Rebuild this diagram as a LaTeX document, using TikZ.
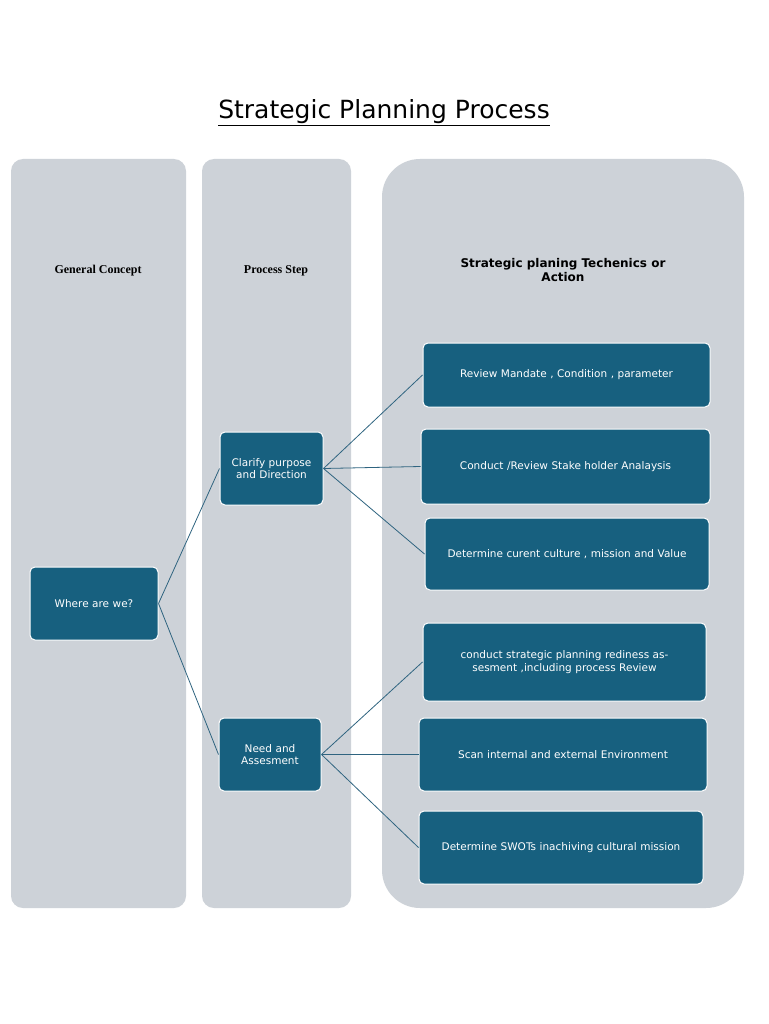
\documentclass[tikz,border=0pt]{standalone}
\usepackage{fontspec}
\setmainfont{DejaVu Sans}
\newfontfamily\serifhd{Liberation Serif}
\begin{document}
\begin{tikzpicture}[x=1pt,y=-1pt,
  col/.style={fill=colgray,draw=none},
  box/.style={fill=boxblue,draw=white,line width=1pt,rounded corners=5pt,text=white,align=center,font=\fontsize{10.5}{12.5}\selectfont,inner sep=2pt},
  link/.style={draw=linkblue,line width=0.8pt}]
\definecolor{colgray}{HTML}{CDD2D8}
\definecolor{boxblue}{HTML}{17607F}
\definecolor{linkblue}{HTML}{2F6480}
\useasboundingbox (0,0) rectangle (768,1024);
\fill[white] (0,0) rectangle (768,1024);
\node[font=\fontsize{25}{30}\selectfont] (title) at (384,113) {\underline{Strategic Planning Process}};
\fill[col,rounded corners=12pt] (11,159) rectangle (186,908);
\fill[col,rounded corners=12pt] (202,159) rectangle (351,908);
\fill[col,rounded corners=38pt] (382,159) rectangle (744,908);
\node[font=\serifhd\bfseries\fontsize{12}{14}\selectfont] (h1) at (98,271) {General Concept};
\node[font=\serifhd\bfseries\fontsize{12}{14}\selectfont] (h2) at (276,271) {Process Step};
\node[font=\bfseries\fontsize{12}{14}\selectfont,align=center] (h3) at (563,270) {Strategic planing Techenics or\\Action};
\newcommand{\bx}[6]{\node[box,minimum width=#4-#2,minimum height=#5-#3,text width=#4-#2-8pt] (#1) at ({(#2+#4)/2},{(#3+#5)/2}) {#6};}
\bx{w}{30}{567}{158}{640}{Where are we?}
\bx{c}{220}{432}{323}{505}{Clarify purpose and Direction}
\bx{n}{219}{718}{321}{791}{Need and Assesment}
\bx{r1}{423}{343}{710}{407}{Review Mandate , Condition , parameter}
\bx{r2}{421}{429}{710}{504}{Conduct /Review Stake holder Analaysis}
\bx{r3}{425}{518}{709}{590}{Determine curent culture , mission and Value}
\bx{r4}{423}{623}{706}{701}{conduct strategic planning rediness assesment ,including process Review}
\bx{r5}{419}{718}{707}{791}{Scan internal and external Environment}
\bx{r6}{419}{811}{703}{884}{Determine SWOTs inachiving cultural mission}
\draw[link] (w.east) -- (c.west);
\draw[link] (w.east) -- (n.west);
\foreach \t in {r1,r2,r3} \draw[link] (c.east) -- (\t.west);
\foreach \t in {r4,r5,r6} \draw[link] (n.east) -- (\t.west);
\end{tikzpicture}
\end{document}
